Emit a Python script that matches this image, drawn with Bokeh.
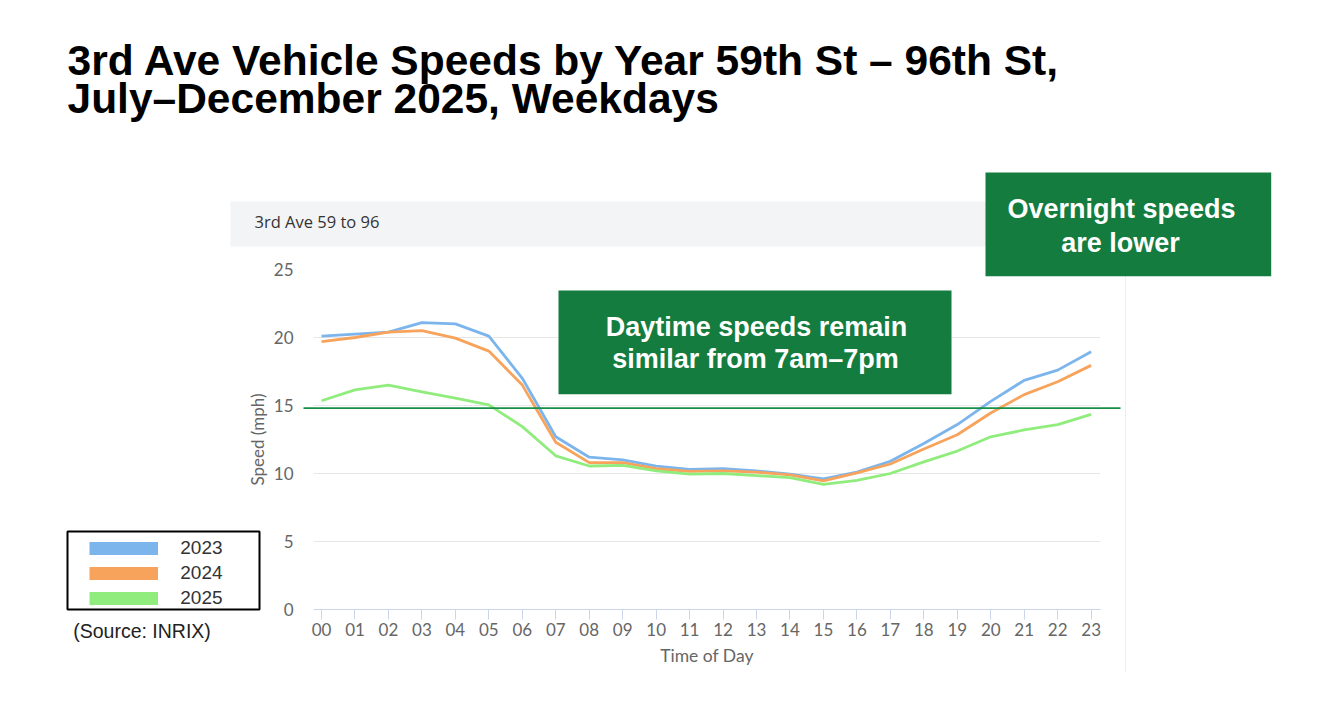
from bokeh.plotting import figure
from bokeh.models import (Range1d, FixedTicker, Label, BoxAnnotation, Legend,
                          LegendItem, GridBox)
from bokeh.embed import file_html
from bokeh.resources import INLINE

# ---- data -------------------------------------------------------------
hours = list(range(24))
hour_labels = [f"{h:02d}" for h in hours]

speed_2023 = [20.1, 20.25, 20.4, 21.1, 21.0, 20.1, 17.0, 12.7, 11.2, 11.0, 10.55, 10.3,
              10.35, 10.2, 9.95, 9.6, 10.1, 10.9, 12.2, 13.6, 15.3, 16.85, 17.6, 18.95]
speed_2024 = [19.7, 20.0, 20.4, 20.5, 19.95, 19.0, 16.5, 12.3, 10.8, 10.8, 10.35, 10.15,
              10.2, 10.1, 9.9, 9.45, 10.05, 10.7, 11.8, 12.85, 14.45, 15.8, 16.75, 17.95]
speed_2025 = [15.35, 16.15, 16.5, 16.0, 15.55, 15.05, 13.45, 11.3, 10.55, 10.6, 10.2, 9.95,
              10.0, 9.85, 9.7, 9.2, 9.5, 10.0, 10.85, 11.65, 12.7, 13.2, 13.6, 14.35]

years = ["2023", "2024", "2025"]
series = [speed_2023, speed_2024, speed_2025]
colors = ["#7cb5ec", "#f7a35c", "#90ed7d"]

y_ticks = [0, 5, 10, 15, 20, 25]
reference_speed = 14.8

# ---- canvas geometry ----------------------------------------------------
W, H = 1340, 721
FL, FR, FT, FB = 313, 1100, 269, 609          # chart frame edges in pixels
X0, X1 = -0.24, 23.28
Y0, Y1 = 0, 25


def speed_to_px(v):
    """speed value -> canvas pixel row"""
    return FB - (v - Y0) / (Y1 - Y0) * (FB - FT)


# ============ chart layer ==================================================
chart = figure(width=W, height=H, x_range=Range1d(X0, X1), y_range=Range1d(Y0, Y1),
               output_backend="svg", toolbar_location=None, title=None,
               min_border_left=FL, min_border_right=W - FR,
               min_border_top=FT, min_border_bottom=H - FB)
chart.frame_align = False
chart.outline_line_color = None
chart.background_fill_color = "white"
chart.border_fill_color = "white"

AXIS_FONT = "Lato"
AXIS_COLOR = "#666666"

# x axis
chart.xaxis.ticker = FixedTicker(ticks=hours)
chart.xaxis.major_label_overrides = {h: lab for h, lab in zip(hours, hour_labels)}
chart.xaxis.axis_line_color = "#ccd6eb"
chart.xaxis.major_tick_line_color = "#ccd6eb"
chart.xaxis.major_tick_out = 10
chart.xaxis.major_tick_in = 0
chart.xaxis.minor_tick_line_color = None
chart.xaxis.major_label_standoff = 3
chart.xaxis.major_label_text_font = AXIS_FONT
chart.xaxis.major_label_text_font_size = "17px"
chart.xaxis.major_label_text_color = AXIS_COLOR
chart.xaxis.axis_label = "Time of Day"
chart.xaxis.axis_label_standoff = 6
chart.xaxis.axis_label_text_font = AXIS_FONT
chart.xaxis.axis_label_text_font_size = "17.5px"
chart.xaxis.axis_label_text_font_style = "normal"
chart.xaxis.axis_label_text_color = AXIS_COLOR

# y axis
chart.yaxis.ticker = FixedTicker(ticks=y_ticks)
chart.yaxis.axis_line_color = None
chart.yaxis.major_tick_line_color = None
chart.yaxis.minor_tick_line_color = None
chart.yaxis.major_tick_out = 0
chart.yaxis.major_tick_in = 0
chart.yaxis.major_label_standoff = 20
chart.yaxis.major_label_text_font = AXIS_FONT
chart.yaxis.major_label_text_font_size = "17px"
chart.yaxis.major_label_text_color = AXIS_COLOR
chart.yaxis.axis_label = "Speed (mph)"
chart.yaxis.axis_label_standoff = 3
chart.yaxis.axis_label_text_font = AXIS_FONT
chart.yaxis.axis_label_text_font_size = "17px"
chart.yaxis.axis_label_text_font_style = "normal"
chart.yaxis.axis_label_text_color = AXIS_COLOR

chart.xgrid.grid_line_color = None
chart.ygrid.ticker = FixedTicker(ticks=y_ticks)
chart.ygrid.grid_line_color = "#e6e6e6"
chart.ygrid.grid_line_width = 1

for vals, c in zip(series, colors):
    chart.line(hours, vals, line_color=c, line_width=2.8)

# ============ annotation layer (pixel coordinates, drawn on top) ============
ov = figure(width=W, height=H, x_range=Range1d(0, W), y_range=Range1d(H, 0),
            output_backend="svg", toolbar_location=None, title=None,
            x_axis_location=None, y_axis_location=None, min_border=0)
ov.frame_align = False
ov.outline_line_color = None
ov.background_fill_alpha = 0
ov.border_fill_alpha = 0
ov.xgrid.visible = False
ov.ygrid.visible = False


def box(l, r, t, b, **kw):
    kw.setdefault("fill_alpha", 1)
    kw.setdefault("line_alpha", 1)
    ov.add_layout(BoxAnnotation(left=l, right=r, top=t, bottom=b, **kw))


def text(x, y, s, **kw):
    kw.setdefault("text_baseline", "middle")
    ov.add_layout(Label(x=x, y=y, text=s, **kw))


# chart panel header strip and right border
box(230, 1125, 201, 246, fill_color="#f3f4f6", line_color=None)
text(254, 221, "3rd Ave 59 to 96", text_font="Open Sans", text_font_size="16.5px",
     text_color="#333333")
box(1124.5, 1125.5, 276, 672, fill_color="#eceef2", line_color=None)

# 15 mph reference line
ref_y = speed_to_px(reference_speed)
box(303, 1120, ref_y - 0.9, ref_y + 0.9, fill_color="#168f48", line_color=None)

# callout boxes
BOX_GREEN = "#137c3e"
CALLOUT = dict(text_align="center", text_font="Liberation Sans", text_font_style="bold",
               text_font_size="27px", text_color="white")

box(558, 951, 290, 393.7, fill_color=BOX_GREEN, line_color=None)
text(756, 326, "Daytime speeds remain", **CALLOUT)
text(755, 358.5, "similar from 7am–7pm", **CALLOUT)

box(985, 1270.7, 172, 275.7, fill_color=BOX_GREEN, line_color=None)
text(1121, 208, "Overnight speeds", **CALLOUT)
text(1120, 242, "are lower", **CALLOUT)

# title
TITLE = dict(text_align="left", text_font="Liberation Sans", text_font_style="bold",
             text_font_size="42.5px", text_color="black")
text(67, 59.5, "3rd Ave Vehicle Speeds by Year 59th St – 96th St,", **TITLE)
text(67, 97.5, "July–December 2025, Weekdays", **TITLE)

# legend: thick line proxies (single NaN point, nothing drawn on the canvas)
box(67, 259, 531, 609, fill_alpha=0, line_color="black", line_width=2)
nan = float("nan")
swatches = [ov.line(x=[nan], y=[nan], line_color=c, line_width=13, line_cap="butt")
            for c in colors]
legend = Legend(items=[LegendItem(label=yr, renderers=[r]) for yr, r in zip(years, swatches)],
                location=(89.3, H - 608.5), orientation="vertical",
                glyph_width=69, glyph_height=22, label_height=22, label_standoff=22,
                spacing=3, padding=0, margin=0,
                border_line_color=None, background_fill_alpha=0,
                label_text_font="Liberation Sans", label_text_font_size="19px",
                label_text_color="#333333")
ov.add_layout(legend)

text(72.7, 630, "(Source: INRIX)", text_align="left", text_font="Liberation Sans",
     text_font_size="19.5px", text_color="#222222")

layout = GridBox(children=[(chart, 0, 0), (ov, 0, 0)])
open("out.html", "w").write(file_html(layout, INLINE))
